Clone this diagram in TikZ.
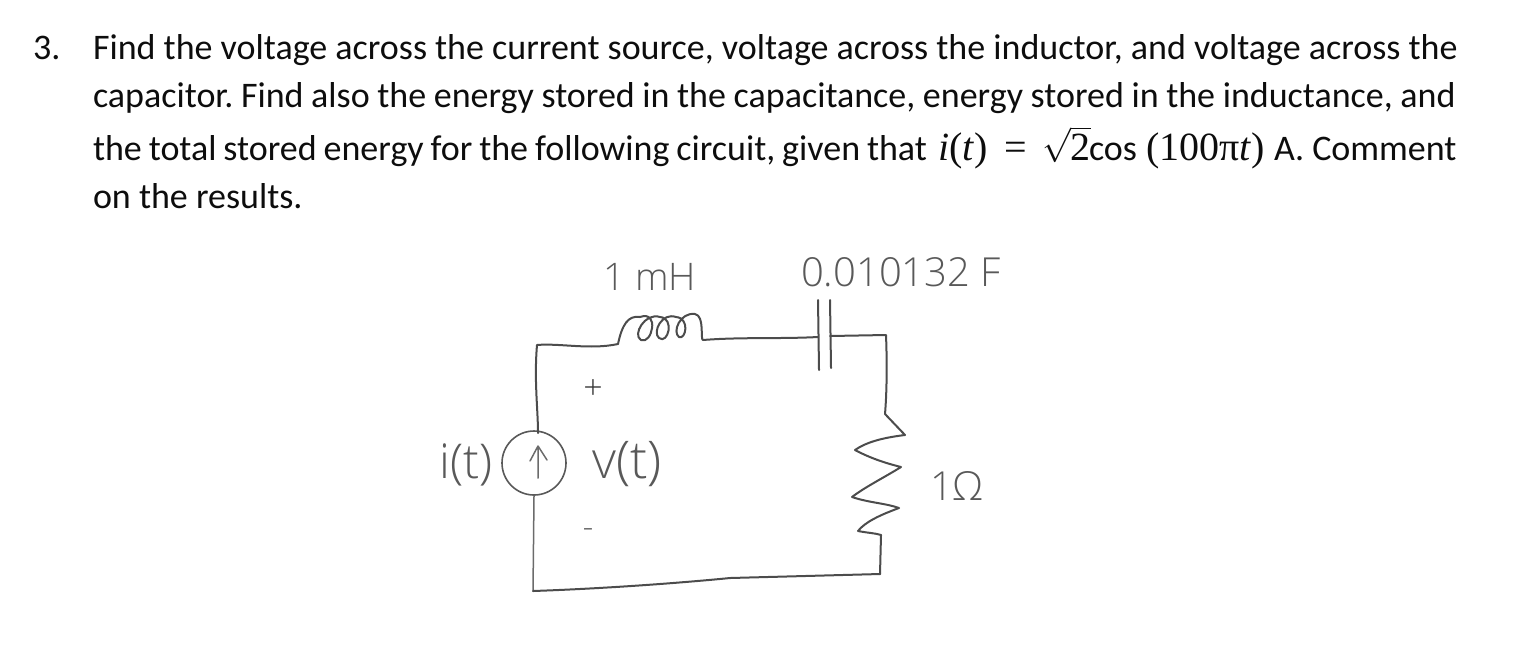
\documentclass[tikz,border=0pt]{standalone}
\usepackage{fontspec}
\usepackage{amsmath}
\setmainfont{Carlito}
\newfontfamily\handfont{Open Sans Light}
\newfontfamily\upserif{Liberation Serif}
\newcommand{\hsz}[1]{\handfont\fontsize{#1}{20}\selectfont}
\newcommand{\mth}{\upserif\fontsize{20}{22}\selectfont}
\tikzset{
  x=0.5pt,y=-0.5pt,
  para/.style={anchor=base west,inner sep=0pt,outer sep=0pt,text=black!95,font=\fontsize{18}{22}\selectfont\frenchspacing},
  hand/.style={inner sep=0pt,outer sep=0pt,text=black!65},
  wire/.style={draw=black!70,line width=1pt,line cap=round,line join=round},
  thinwire/.style={draw=black!58,line width=0.75pt,line cap=round,line join=round}
}
\begin{document}
\begin{tikzpicture}
\useasboundingbox (0,0) rectangle (1534,644);
% question text
\node[para] (num) at (33,59) {3.};
\node[para] (l1) at (93,59) {Find the voltage across the current source, voltage across the inductor, and voltage across the};
\node[para] (l2) at (93,107) {{\spaceskip=3.8pt capacitor. Find also the energy stored in the capacitance, energy stored in the inductance, and}};
\node[para] (l3) at (93,160) {{\spaceskip=3.45pt the total stored energy for the following circuit, given that}\hspace{5.5pt}\makebox[33pt][l]{\mth\textit{i}(\textit{t})}\makebox[19pt][l]{\mth =}\makebox[23.5pt][l]{$\sqrt{\text{\mth 2}}$}\makebox[28.5pt][l]{cos}\makebox[64pt][l]{\mth (100π\textit{t})}A. Comment};
\node[para] (l4) at (93,208) {on the results.};
% circuit anchor points
\coordinate (tl) at (537,345);
\coordinate (indL) at (618,344);
\coordinate (indR) at (703,340);
\coordinate (capL) at (818,337);
\coordinate (capR) at (830,336);
\coordinate (tr) at (886,335);
\coordinate (resT) at (885,414);
\coordinate (resB) at (881,535);
\coordinate (br) at (880,574);
\coordinate (bl) at (533,591);
% source
\node[circle,draw=black!65,line width=0.8pt,minimum size=32pt,inner sep=0pt] (src) at (534,463) {};
\coordinate (arrB) at (538,478);
\coordinate (arrT) at (538,446);
\draw[thinwire] (arrB) -- (arrT) (530,461) -- (arrT) -- (547,460);
% wires
\draw[wire] (538,433) .. controls (538,410) and (534,380) .. (tl)
  .. controls (560,343) and (590,350) .. (indL);
\draw[wire] (indR) .. controls (740,337) and (780,339) .. (capL);
\draw[wire] (capR) -- (tr) .. controls (887,360) and (887,390) .. (resT);
\draw[thinwire] (src.south) -- (bl);
\draw[wire] (bl) .. controls (620,588) and (700,581) .. (730,578) -- (br);
\draw[wire] (br) -- (resB);
% inductor
\draw[wire] (indL) .. controls (622,325) and (628,315) .. (640,317)
  .. controls (660,310) and (652,345) .. (641,340)
  .. controls (632,335) and (645,312) .. (660,317)
  .. controls (675,318) and (668,345) .. (659,338)
  .. controls (652,332) and (662,312) .. (676,317)
  .. controls (690,318) and (686,340) .. (679,337)
  .. controls (672,332) and (680,312) .. (695,314)
  .. controls (705,316) and (700,340) .. (indR);
% capacitor
\coordinate (p1a) at (818,300); \coordinate (p1b) at (819,370);
\coordinate (p2a) at (830,300); \coordinate (p2b) at (831,368);
\draw[wire] (p1a) -- (p1b);
\draw[wire] (p2a) -- (p2b);
% resistor
\draw[wire] (resT) -- (905,435) .. controls (880,438) and (865,443) .. (855,450)
  .. controls (870,458) and (885,463) .. (901,467)
  .. controls (885,477) and (865,487) .. (852,497)
  .. controls (870,503) and (885,503) .. (899,508)
  .. controls (880,515) and (865,522) .. (858,531)
  .. controls (868,533) and (875,533) .. (resB);
% labels
\node[hand,font=\hsz{19}] (lL) at (650,277) {1 mH};
\node[hand,font=\hsz{20}] (lC) at (901,272) {0.010132 F};
\node[hand,font=\hsz{24}] (lI) at (466,465) {i(t)};
\node[hand,font=\hsz{26}] (lV) at (627,464) {v(t)};
\node[hand,font=\hsz{20}] (lR) at (957,486) {1Ω};
\node[hand,text=black!80,font=\hsz{17}] (plus) at (593,390) {+};
\node[hand,font=\hsz{17}] (minus) at (588,534) {-};
\end{tikzpicture}
\end{document}
